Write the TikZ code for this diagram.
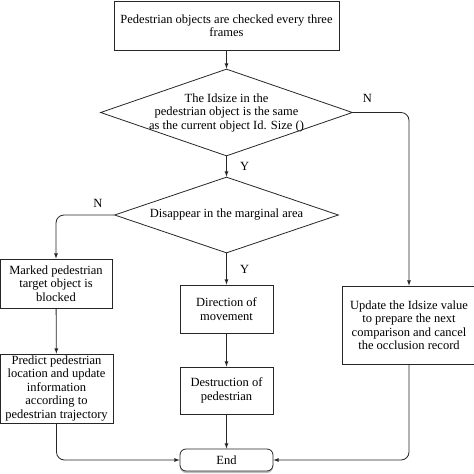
\documentclass[tikz,border=0pt]{standalone}
\usepackage{fontspec}
\setmainfont{Liberation Serif}
\usepackage{tikz}
\usetikzlibrary{positioning,shapes,arrows,shadows}

\begin{document}
\begin{tikzpicture}[auto, >=latex, line width=0.8pt, draw=black!85,
    font=\fontsize{12.5}{13.5}\selectfont,
    box/.style={rectangle, draw=black!85, align=center, inner sep=1pt},
    decision/.style={diamond, draw=black!85, align=center, aspect=2.9, inner sep=-8pt},
    flow/.style={->, draw=black!85, rounded corners=8pt}]
    \useasboundingbox (0,0) rectangle (474pt,-474pt);
    % nodes
    \node [box, minimum width=225pt, minimum height=49pt] (check) at (226.5pt,-25.5pt) {Pedestrian objects are checked every three \\ frames};
    \node [decision, node distance=87pt, below of=check, minimum width=252pt, minimum height=87pt] (same) {The Idsize in the \\ pedestrian object is the same \\ as the current object Id. Size ()};
    \node [decision, node distance=102.5pt, below of=same, minimum width=224pt, minimum height=76pt] (margin) {Disappear in the marginal area};
    \node [box, node distance=94pt, below of=margin, minimum width=93pt, minimum height=48pt] (move) {Direction of \\ movement};
    \node [box, node distance=81.5pt, below of=move, minimum width=93pt, minimum height=47pt] (destroy) {Destruction of \\ pedestrian};
    \node [box, node distance=69.5pt, below of=destroy, minimum width=93pt, minimum height=22pt, rounded corners=6pt, fill=white,
        drop shadow={shadow xshift=0pt, shadow yshift=-2pt, fill=black!25, opacity=1}] (end) {End};
    \node [box, node distance=68.5pt, below of=margin, xshift=-170.5pt, minimum width=112pt, minimum height=49pt] (mark) {Marked pedestrian \\ target object is \\ blocked};
    \node [box, node distance=105pt, below of=mark, xshift=0.5pt, minimum width=113pt, minimum height=69pt] (predict) {Predict pedestrian \\ location and update \\ information \\ according to \\ pedestrian trajectory};
    \node [box, node distance=182.5pt, right of=move, yshift=-16pt, minimum width=134pt, minimum height=78pt] (update) {Update the Idsize value \\ to prepare the next \\ comparison and cancel \\ the occlusion record};

    % edges
    \draw [flow] (check) -- (same);
    \draw [flow] (same) -- (margin) node[midway, right=10pt] {Y};
    \draw [flow] (same.east) -| (update) node[pos=0.13, above=6pt] {N};
    \draw [flow] (margin.west) -| (mark) node[pos=0.14, above=4pt] {N};
    \draw [flow] (margin) -- (move) node[midway, right=10pt] {Y};
    \draw [flow] (mark) -- (predict);
    \draw [flow] (move) -- (destroy);
    \draw [flow] (destroy) -- (end);
    \draw [flow] (predict.south) |- (end.west);
    \draw [flow] (update.south) |- (end.east);
\end{tikzpicture}
\end{document}
